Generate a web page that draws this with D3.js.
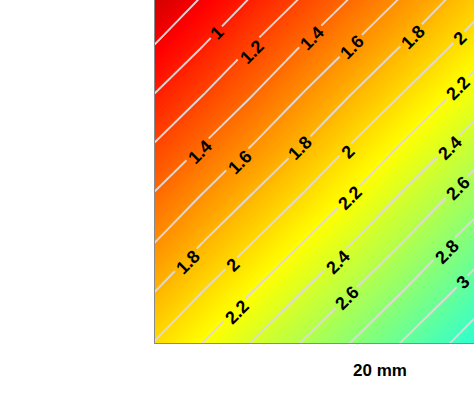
<!DOCTYPE html>
<html><head><meta charset="utf-8">
<script src="https://cdn.jsdelivr.net/npm/d3@7"></script>
<style>body{margin:0;background:#fff}svg{display:block}</style>
</head><body>
<svg id="c" width="474" height="404"></svg>
<script>
// Field values on a coarse grid (rows top->bottom, cols left->right)
const gridCols = 10, gridRows = 8;
const zRows = [
  [0.62, 0.83, 1.03, 1.23, 1.43, 1.63, 1.84, 2.04, 2.24, 2.44],
  [0.82, 1.02, 1.23, 1.43, 1.63, 1.83, 2.03, 2.24, 2.44, 2.64],
  [1.02, 1.22, 1.42, 1.63, 1.83, 2.03, 2.23, 2.43, 2.64, 2.84],
  [1.22, 1.42, 1.62, 1.82, 2.03, 2.23, 2.43, 2.63, 2.83, 3.04],
  [1.42, 1.62, 1.82, 2.02, 2.22, 2.43, 2.63, 2.83, 3.03, 3.23],
  [1.61, 1.82, 2.02, 2.22, 2.42, 2.62, 2.83, 3.03, 3.23, 3.43],
  [1.81, 2.02, 2.22, 2.42, 2.62, 2.82, 3.02, 3.23, 3.43, 3.63],
  [2.01, 2.21, 2.42, 2.62, 2.82, 3.02, 3.22, 3.42, 3.63, 3.83]
];
const lineLevels = [0.8, 1.0, 1.2, 1.4, 1.6, 1.8, 2.0, 2.2, 2.4, 2.6, 2.8, 3.0, 3.2, 3.4, 3.6, 3.8];
const labelText = ["1","1.2","1.4","1.6","1.8","2","2.2","1.4","1.6","1.8","2","2.2","2.4","2.6","1.8","2","2.2","2.4","2.6","2.8","3"];
const labelCol  = [1.24,1.94,3.14,3.94,5.16,6.10,6.06,0.90,1.70,2.90,3.86,3.90,5.90,6.06,0.66,1.56,1.64,3.66,3.84,5.84,6.16];
const labelRow  = [0.67,1.06,0.78,0.96,0.76,0.78,1.80,3.10,3.31,3.02,3.10,4.04,3.02,3.84,5.35,5.41,6.37,5.35,6.08,5.14,5.76];
const xLabel = "20 mm";

const svg = d3.select("#c");
const plotL = 155, plotR = 605, plotT = 0, plotB = 343;
const xScale = d3.scaleLinear().domain([0, gridCols - 1]).range([plotL, plotR]);
const yScale = d3.scaleLinear().domain([0, gridRows - 1]).range([plotT, plotB]);

function jet(t) {
  const c = v => Math.max(0, Math.min(1, v));
  const r = c(1.5 - Math.abs(4 * t - 3)), g = c(1.5 - Math.abs(4 * t - 2)), b = c(1.5 - Math.abs(4 * t - 1));
  return d3.rgb(r * 255, g * 255, b * 255).toString();
}
const tScale = d3.scaleLinear().domain([0.85, 2.2]).range([0.875, 0.625]);
const color = z => jet(tScale(z));

const values = zRows.flat();
const proj = d3.geoTransform({
  point: function(gx, gy) { this.stream.point(xScale(gx - 0.5), yScale(gy - 0.5)); }
});
const path = d3.geoPath(proj);

const defs = svg.append("defs");
defs.append("clipPath").attr("id", "clip").append("rect")
  .attr("x", plotL).attr("y", plotT).attr("width", plotR - plotL).attr("height", plotB - plotT);

const fillStep = 0.02;
const fillThresholds = d3.range(0.4, 4.0, fillStep);
const fills = d3.contours().size([gridCols, gridRows]).thresholds(fillThresholds)(values);

const g = svg.append("g").attr("clip-path", "url(#clip)");
g.selectAll("path.f").data(fills).join("path")
  .attr("class", "f")
  .attr("d", path)
  .attr("fill", d => color(d.value + fillStep / 2))
  .attr("stroke", d => color(d.value + fillStep / 2))
  .attr("stroke-width", 0.3);

const labels = labelText.map((t, i) => ({ t, x: xScale(labelCol[i]), y: yScale(labelRow[i]) }));
const mask = defs.append("mask").attr("id", "lm").attr("maskUnits", "userSpaceOnUse")
  .attr("x", 0).attr("y", 0).attr("width", 700).attr("height", 404);
mask.append("rect").attr("x", 0).attr("y", 0).attr("width", 700).attr("height", 404).attr("fill", "#fff");

const lineG = g.append("g").attr("mask", "url(#lm)");
const lines = d3.contours().size([gridCols, gridRows]).thresholds(lineLevels)(values);
lineG.selectAll("path").data(lines).join("path")
  .attr("d", path)
  .attr("fill", "none")
  .attr("stroke", "#e0d8d8")
  .attr("stroke-width", 1.9);

const lg = svg.append("g");
lg.selectAll("text").data(labels).join("text")
  .attr("transform", d => `translate(${d.x},${d.y}) rotate(-45)`)
  .attr("text-anchor", "middle")
  .attr("dominant-baseline", "central")
  .style("font-family", "'Liberation Sans', Arial, sans-serif")
  .style("font-weight", "bold")
  .style("font-size", "18px")
  .attr("fill", "#000")
  .text(d => d.t)
  .each(function(d) {
    const L = this.getComputedTextLength();
    mask.append("rect")
      .attr("transform", `translate(${d.x},${d.y}) rotate(-45)`)
      .attr("x", -L / 2 - 3).attr("y", -9).attr("width", L + 6).attr("height", 18)
      .attr("fill", "#000");
  });

// axes borders
svg.append("line").attr("x1", plotL - 0.5).attr("x2", plotL - 0.5).attr("y1", plotT).attr("y2", plotB + 0.5)
  .attr("stroke", "#8a8a8a").attr("stroke-width", 1);
svg.append("line").attr("x1", plotL - 1).attr("x2", 474).attr("y1", plotB + 0.5).attr("y2", plotB + 0.5)
  .attr("stroke", "#8a8a8a").attr("stroke-width", 1);

svg.append("text")
  .attr("x", (plotL + plotR) / 2).attr("y", 376)
  .attr("text-anchor", "middle")
  .style("font-family", "'Liberation Sans', Arial, sans-serif")
  .style("font-weight", "bold")
  .style("font-size", "17px")
  .attr("fill", "#000")
  .text(xLabel);
</script>
</body></html>
